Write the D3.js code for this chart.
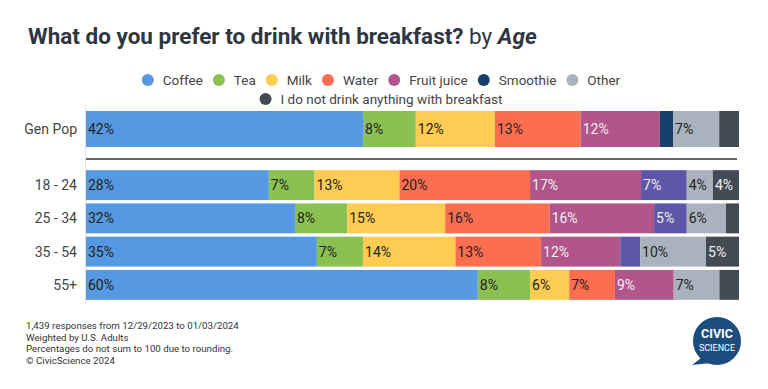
<!DOCTYPE html>
<html>
<head>
<meta charset="utf-8">
<script src="https://cdn.jsdelivr.net/npm/d3@7"></script>
<style>
  body { margin: 0; background: #fff; }
  svg { font-family: Roboto, "Noto Sans", sans-serif; display: block; }
</style>
</head>
<body>
<svg id="chart" width="768" height="389"></svg>
<script>
// categories (stack order) and legend colours
var drinks = ["Coffee", "Tea", "Milk", "Water", "Fruit juice", "Smoothie", "Other", "I do not drink anything with breakfast"];
var colors = ["#5599e2", "#8bc052", "#fecb53", "#fd6e51", "#b0568a", "#173f6e", "#aab2bd", "#434a54"];
// smoothie segments in the age rows are drawn in a lighter purple
var smoothieAge = "#5e57a7";

var groups = ["Gen Pop", "18 - 24", "25 - 34", "35 - 54", "55+"];
// percentages per group, same order as drinks (unlabelled slices estimated)
var genPop = [42, 8, 12, 13, 12, 2, 7, 3];
var age1824 = [28, 7, 13, 20, 17, 7, 4, 4];
var age2534 = [32, 8, 15, 16, 16, 5, 6, 2];
var age3554 = [35, 7, 14, 13, 12, 3, 10, 5];
var age55 = [60, 8, 6, 7, 9, 0, 7, 3];

var footnotes = [
  "1,439 responses from 12/29/2023 to 01/03/2024",
  "Weighted by U.S. Adults",
  "Percentages do not sum to 100 due to rounding.",
  "\u00a9 CivicScience 2024"
];

var rows = [genPop, age1824, age2534, age3554, age55].map(function (vals, i) {
  var r = { group: groups[i] };
  drinks.forEach(function (k, j) { r[k] = vals[j]; });
  return r;
});

var svg = d3.select("#chart");

// title
var title = svg.append("text")
  .attr("x", 28).attr("y", 44)
  .attr("fill", "#2f3641")
  .style("font-size", "22.5px");
title.append("tspan").attr("font-weight", 700).text("What do you prefer to drink with breakfast? ");
title.append("tspan").attr("font-weight", 400).text("by ");
title.append("tspan").attr("font-weight", 700).attr("font-style", "italic").text("Age");

// legend, two centred lines
var legendLines = [drinks.slice(0, 7), drinks.slice(7)];
legendLines.forEach(function (line, li) {
  var lg = svg.append("g");
  var xoff = 0;
  line.forEach(function (name) {
    var idx = drinks.indexOf(name);
    var it = lg.append("g").attr("transform", "translate(" + xoff + ",0)");
    it.append("circle").attr("cx", 6).attr("cy", 0).attr("r", 6).attr("fill", colors[idx]);
    var t = it.append("text").attr("x", 21).attr("y", 5)
      .attr("fill", "#444")
      .style("font-size", "13.5px")
      .text(name);
    xoff += 21 + t.node().getComputedTextLength() + 10;
  });
  var w = xoff - 10;
  lg.attr("transform", "translate(" + (381 - w / 2) + "," + (80 + li * 19) + ")");
});

// scales
var x = d3.scaleLinear().domain([0, 1]).range([86, 739]);
var yTop = d3.scaleBand().domain(["Gen Pop"]).range([111, 147]);
var yAge = d3.scaleBand().domain(groups.slice(1)).range([168.5, 301.5])
  .paddingInner(0.1).paddingOuter(0.05);
function yPos(g) { return g === "Gen Pop" ? yTop(g) : yAge(g); }
function yBw(g) { return g === "Gen Pop" ? yTop.bandwidth() : yAge.bandwidth(); }

var stack = d3.stack().keys(drinks).offset(d3.stackOffsetExpand);
var series = stack(rows);

// left axis line
svg.append("line")
  .attr("x1", 85.5).attr("x2", 85.5).attr("y1", 106).attr("y2", 305)
  .attr("stroke", "#e2e2e2");

var segs = svg.append("g").selectAll("g")
  .data(series).enter().append("g")
  .selectAll("g")
  .data(function (s) { return s.map(function (d) { d.key = s.key; return d; }); })
  .enter().append("g");

segs.append("rect")
  .attr("x", function (d) { return x(d[0]); })
  .attr("y", function (d) { return yPos(d.data.group); })
  .attr("width", function (d) { return x(d[1]) - x(d[0]); })
  .attr("height", function (d) { return yBw(d.data.group); })
  .attr("fill", function (d) {
    if (d.key === "Smoothie" && d.data.group !== "Gen Pop") return smoothieAge;
    return colors[drinks.indexOf(d.key)];
  });

var lightText = ["Fruit juice", "Smoothie", "I do not drink anything with breakfast"];
segs.filter(function (d) { return d.data[d.key] >= 4; })
  .append("text")
  .attr("x", function (d) { return x(d[0]) + 2; })
  .attr("y", function (d) { return yPos(d.data.group) + yBw(d.data.group) / 2 + 5; })
  .attr("fill", function (d) { return lightText.indexOf(d.key) >= 0 ? "#f4eef2" : "#222"; })
  .style("font-size", "14px")
  .text(function (d) { return d.data[d.key] + "%"; });

// separator under Gen Pop
svg.append("line")
  .attr("x1", 86).attr("x2", 737).attr("y1", 159).attr("y2", 159)
  .attr("stroke", "#333").attr("stroke-width", 1.5);

// group labels
svg.append("g").selectAll("text")
  .data(groups).enter().append("text")
  .attr("x", 77)
  .attr("y", function (g) { return yPos(g) + yBw(g) / 2 + 5; })
  .attr("text-anchor", "end")
  .attr("fill", "#444")
  .style("font-size", "14px")
  .text(function (g) { return g; });

// footnotes
svg.append("g").selectAll("text")
  .data(footnotes).enter().append("text")
  .attr("x", 26)
  .attr("y", function (d, i) { return 329 + i * 11.5; })
  .attr("fill", "#333")
  .style("font-size", "9.7px")
  .text(function (d) { return d; });

// logo
var logo = svg.append("g").attr("transform", "translate(717,341)");
logo.append("path")
  .attr("d", "M-16,17 L-25,24 L-6,22 Z")
  .attr("fill", "#1c4d7e");
logo.append("circle").attr("r", 24).attr("fill", "#1c4d7e");
logo.append("text").attr("y", -3).attr("text-anchor", "middle")
  .attr("fill", "#fff").attr("font-weight", 700).style("font-size", "12.5px")
  .text("CIVIC");
logo.append("text").attr("y", 9.5).attr("text-anchor", "middle")
  .attr("fill", "#fff").style("font-size", "9px")
  .text("SCIENCE");
</script>
</body>
</html>
